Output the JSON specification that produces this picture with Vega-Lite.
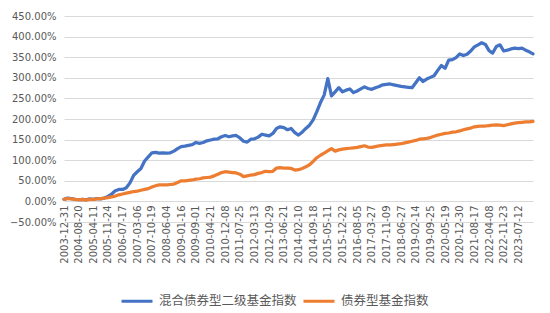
{
  "$schema": "https://vega.github.io/schema/vega-lite/v6.json",
  "width": 469,
  "height": 206,
  "autosize": {"type": "none"},
  "padding": {"left": 64, "top": 16, "right": 17, "bottom": 91},
  "background": "white",
  "config": {"view": {"stroke": null}, "font": "DejaVu Sans"},
  "data": {"values": [
    {"d":"2003-12-31","a":0.05,"b":0.05},{"d":"2004-02-27","a":0.08,"b":0.07},{"d":"2004-04-26","a":0.07,"b":0.06},{"d":"2004-06-23","a":0.05,"b":0.05},
    {"d":"2004-08-20","a":0.04,"b":0.04},{"d":"2004-10-18","a":0.05,"b":0.05},{"d":"2004-12-15","a":0.04,"b":0.03},{"d":"2005-02-11","a":0.06,"b":0.05},
    {"d":"2005-04-11","a":0.05,"b":0.05},{"d":"2005-06-06","a":0.07,"b":0.06},{"d":"2005-08-01","a":0.06,"b":0.07},{"d":"2005-09-28","a":0.08,"b":0.08},
    {"d":"2005-11-24","a":0.12,"b":0.09},{"d":"2006-01-23","a":0.18,"b":0.11},{"d":"2006-03-21","a":0.26,"b":0.13},{"d":"2006-05-19","a":0.29,"b":0.16},
    {"d":"2006-07-17","a":0.29,"b":0.18},{"d":"2006-09-13","a":0.33,"b":0.20},{"d":"2006-11-10","a":0.45,"b":0.22},{"d":"2007-01-08","a":0.63,"b":0.24},
    {"d":"2007-03-06","a":0.72,"b":0.25},{"d":"2007-05-02","a":0.80,"b":0.27},{"d":"2007-06-28","a":0.98,"b":0.29},{"d":"2007-08-24","a":1.08,"b":0.31},
    {"d":"2007-10-19","a":1.18,"b":0.35},{"d":"2007-12-15","a":1.19,"b":0.38},{"d":"2008-02-10","a":1.17,"b":0.40},{"d":"2008-04-07","a":1.18,"b":0.40},
    {"d":"2008-06-04","a":1.17,"b":0.40},{"d":"2008-07-31","a":1.18,"b":0.41},{"d":"2008-09-25","a":1.22,"b":0.42},{"d":"2008-11-21","a":1.28,"b":0.46},
    {"d":"2009-01-16","a":1.33,"b":0.50},{"d":"2009-03-14","a":1.34,"b":0.50},{"d":"2009-05-10","a":1.36,"b":0.51},{"d":"2009-07-06","a":1.38,"b":0.52},
    {"d":"2009-09-01","a":1.43,"b":0.54},{"d":"2009-10-29","a":1.41,"b":0.55},{"d":"2009-12-26","a":1.43,"b":0.57},{"d":"2010-02-22","a":1.47,"b":0.58},
    {"d":"2010-04-21","a":1.49,"b":0.59},{"d":"2010-06-18","a":1.51,"b":0.62},{"d":"2010-08-15","a":1.52,"b":0.66},{"d":"2010-10-12","a":1.57,"b":0.70},
    {"d":"2010-12-08","a":1.60,"b":0.72},{"d":"2011-02-03","a":1.57,"b":0.71},{"d":"2011-04-01","a":1.59,"b":0.70},{"d":"2011-05-28","a":1.60,"b":0.69},
    {"d":"2011-07-25","a":1.54,"b":0.66},{"d":"2011-09-21","a":1.46,"b":0.60},{"d":"2011-11-18","a":1.44,"b":0.62},{"d":"2012-01-15","a":1.51,"b":0.64},
    {"d":"2012-03-13","a":1.52,"b":0.65},{"d":"2012-05-10","a":1.56,"b":0.68},{"d":"2012-07-07","a":1.63,"b":0.70},{"d":"2012-09-02","a":1.61,"b":0.73},
    {"d":"2012-10-29","a":1.59,"b":0.72},{"d":"2012-12-27","a":1.65,"b":0.73},{"d":"2013-02-24","a":1.77,"b":0.81},{"d":"2013-04-24","a":1.81,"b":0.82},
    {"d":"2013-06-21","a":1.79,"b":0.81},{"d":"2013-08-19","a":1.74,"b":0.81},{"d":"2013-10-16","a":1.77,"b":0.80},{"d":"2013-12-13","a":1.67,"b":0.76},
    {"d":"2014-02-10","a":1.61,"b":0.77},{"d":"2014-04-06","a":1.68,"b":0.80},{"d":"2014-05-31","a":1.77,"b":0.84},{"d":"2014-07-25","a":1.85,"b":0.89},
    {"d":"2014-09-18","a":1.98,"b":0.97},{"d":"2014-11-16","a":2.18,"b":1.06},{"d":"2015-01-13","a":2.40,"b":1.12},{"d":"2015-03-13","a":2.58,"b":1.17},
    {"d":"2015-05-11","a":2.98,"b":1.23},{"d":"2015-07-07","a":2.56,"b":1.28},{"d":"2015-09-01","a":2.66,"b":1.22},{"d":"2015-10-27","a":2.76,"b":1.25},
    {"d":"2015-12-22","a":2.66,"b":1.27},{"d":"2016-02-17","a":2.70,"b":1.28},{"d":"2016-04-14","a":2.73,"b":1.29},{"d":"2016-06-09","a":2.64,"b":1.30},
    {"d":"2016-08-05","a":2.68,"b":1.31},{"d":"2016-10-02","a":2.73,"b":1.33},{"d":"2016-11-30","a":2.78,"b":1.35},{"d":"2017-01-27","a":2.74,"b":1.32},
    {"d":"2017-03-27","a":2.72,"b":1.31},{"d":"2017-05-23","a":2.76,"b":1.33},{"d":"2017-07-19","a":2.79,"b":1.35},{"d":"2017-09-14","a":2.83,"b":1.36},
    {"d":"2017-11-09","a":2.84,"b":1.37},{"d":"2018-01-05","a":2.85,"b":1.37},{"d":"2018-03-04","a":2.83,"b":1.38},{"d":"2018-04-30","a":2.81,"b":1.39},
    {"d":"2018-06-27","a":2.79,"b":1.40},{"d":"2018-08-24","a":2.78,"b":1.42},{"d":"2018-10-21","a":2.77,"b":1.44},{"d":"2018-12-18","a":2.76,"b":1.46},
    {"d":"2019-02-14","a":2.88,"b":1.48},{"d":"2019-04-11","a":3.00,"b":1.51},{"d":"2019-06-05","a":2.91,"b":1.52},{"d":"2019-07-31","a":2.97,"b":1.53},
    {"d":"2019-09-25","a":3.01,"b":1.55},{"d":"2019-11-23","a":3.05,"b":1.58},{"d":"2020-01-22","a":3.18,"b":1.61},{"d":"2020-03-21","a":3.30,"b":1.63},
    {"d":"2020-05-19","a":3.23,"b":1.65},{"d":"2020-07-14","a":3.43,"b":1.66},{"d":"2020-09-08","a":3.44,"b":1.68},{"d":"2020-11-03","a":3.49,"b":1.69},
    {"d":"2020-12-30","a":3.58,"b":1.71},{"d":"2021-02-26","a":3.54,"b":1.74},{"d":"2021-04-25","a":3.57,"b":1.76},{"d":"2021-06-21","a":3.65,"b":1.78},
    {"d":"2021-08-17","a":3.75,"b":1.81},{"d":"2021-10-15","a":3.80,"b":1.82},{"d":"2021-12-12","a":3.85,"b":1.83},{"d":"2022-02-09","a":3.81,"b":1.83},
    {"d":"2022-04-08","a":3.66,"b":1.84},{"d":"2022-06-04","a":3.60,"b":1.85},{"d":"2022-07-31","a":3.76,"b":1.86},{"d":"2022-09-26","a":3.80,"b":1.85},
    {"d":"2022-11-23","a":3.65,"b":1.84},{"d":"2023-01-19","a":3.67,"b":1.86},{"d":"2023-03-18","a":3.70,"b":1.88},{"d":"2023-05-15","a":3.72,"b":1.90},
    {"d":"2023-07-12","a":3.71,"b":1.91},{"d":"2023-09-08","a":3.72,"b":1.92},{"d":"2023-11-04","a":3.67,"b":1.93},{"d":"2024-01-01","a":3.63,"b":1.93},
    {"d":"2024-02-28","a":3.58,"b":1.94}
  ]},
  "encoding": {
    "x": {
      "field": "d", "type": "ordinal",
      "scale": {"type": "point", "padding": 0},
      "axis": {
        "title": null,
        "values": ["2003-12-31","2004-08-20","2005-04-11","2005-11-24","2006-07-17","2007-03-06","2007-10-19","2008-06-04","2009-01-16","2009-09-01","2010-04-21","2010-12-08","2011-07-25","2012-03-13","2012-10-29","2013-06-21","2014-02-10","2014-09-18","2015-05-11","2015-12-22","2016-08-05","2017-03-27","2017-11-09","2018-06-27","2019-02-14","2019-09-25","2020-05-19","2020-12-30","2021-08-17","2022-04-08","2022-11-23","2023-07-12"],
        "labelAngle": 270,
        "offset": -19,
        "labelPadding": 2,
        "domain": false,
        "ticks": false,
        "grid": false,
        "labelColor": "#595959",
        "labelFontSize": 10,
        "labelOverlap": false
      }
    }
  },
  "layer": [
    {
      "mark": {"type": "line", "strokeWidth": 3.25, "strokeJoin": "round", "strokeCap": "round"},
      "encoding": {
        "y": {
          "field": "a", "type": "quantitative",
          "scale": {"domain": [-0.5, 4.5], "nice": false, "zero": false},
          "axis": {
            "title": null,
            "values": [-0.5, 0, 0.5, 1, 1.5, 2, 2.5, 3, 3.5, 4, 4.5],
            "tickCount": 11,
            "format": ".2%",
            "grid": true,
            "gridColor": "#D9D9D9",
            "gridWidth": 1,
            "domain": false,
            "ticks": false,
            "labelColor": "#595959",
            "labelFontSize": 10,
            "labelPadding": 8,
            "labelOverlap": false,
            "labelBound": false,
            "labelFlush": false
          }
        },
        "color": {
          "datum": "混合债券型二级基金指数",
          "scale": {"domain": ["混合债券型二级基金指数", "债券型基金指数"], "range": ["#4472C4", "#ED7D31"]},
          "legend": {
            "title": null,
            "orient": "none",
            "legendX": 56,
            "legendY": 268,
            "direction": "horizontal",
            "symbolType": "stroke",
            "symbolSize": 961,
            "symbolStrokeWidth": 3,
            "labelFont": "Noto Sans CJK SC",
            "labelFontSize": 12.5,
            "labelColor": "#595959",
            "labelOffset": 5,
            "columnPadding": 0,
            "padding": 0
          }
        }
      }
    },
    {
      "mark": {"type": "line", "strokeWidth": 3.25, "strokeJoin": "round", "strokeCap": "round"},
      "encoding": {
        "y": {"field": "b", "type": "quantitative"},
        "color": {"datum": "债券型基金指数"}
      }
    }
  ]
}
